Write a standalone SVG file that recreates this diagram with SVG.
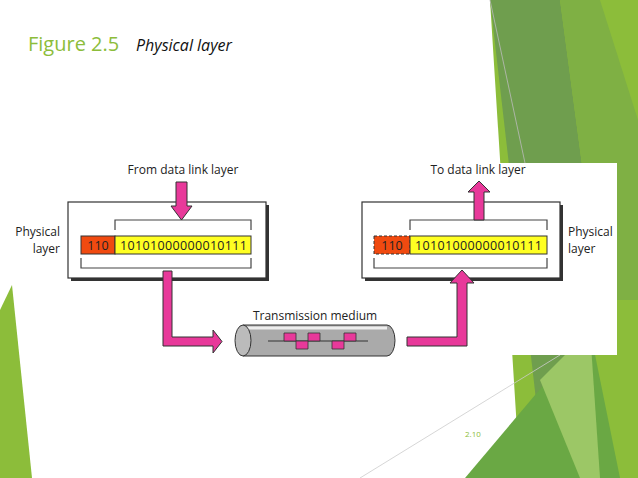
<svg xmlns="http://www.w3.org/2000/svg" width="638" height="478" viewBox="0 0 638 478">
<style>
text{font-family:"Open Sans","Liberation Sans",sans-serif;fill:#222}
.lbl{font-size:12px}
.bits{font-size:12.5px}
.pk{fill:#e8399a;stroke:#333;stroke-width:1}
.br{fill:none;stroke:#444;stroke-width:1.2}
</style>
<rect width="638" height="478" fill="#fff"/>
<g id="background">
<polygon points="490,0 638,0 638,478 520,478" fill="#8cbd3a"/>
<polygon points="490,0 560,0 600,300 570,478 545,478" fill="#6f9e4e"/>
<polygon points="560,0 600,0 638,120 638,300 600,300" fill="#7fb044"/>
<polygon points="465,478 590,330 620,478" fill="#6aa844"/>
<polygon points="540,380 590,330 600,478 580,478" fill="#9cc766"/>
<polygon points="0,310 12,285 32,478 0,478" fill="#8cbd3a"/>
<line x1="490" y1="0" x2="525" y2="163" stroke="#bbb" stroke-width="0.8"/>
<line x1="360" y1="478" x2="560" y2="355" stroke="#ccc" stroke-width="0.8"/>
<rect x="490" y="163" width="127" height="192" fill="#fff"/>
</g>
<g id="title">
<text x="28" y="51" style="font-size:20px;fill:#8cbd3a">Figure 2.5</text>
<text x="136" y="51" style="font-size:16px;font-style:italic;fill:#111">Physical layer</text>
<text x="465" y="437" style="font-size:8px;fill:#8cbd3a">2.10</text>
</g>
<g id="sender">
<rect x="71" y="205" width="198" height="76" fill="#333"/>
<rect x="68" y="202" width="198" height="76" fill="#fff" stroke="#333" stroke-width="1.2"/>
<path class="br" d="M115,230 V220 H251 V230"/>
<path class="br" d="M81,258 V268 H251 V258"/>
<rect x="81" y="236" width="34" height="18" fill="#f04a10" stroke="#333"/>
<rect x="115" y="236" width="136" height="18" fill="#ffff22" stroke="#333"/>
<text class="bits" x="98" y="250" text-anchor="middle">110</text>
<text class="bits" x="120" y="250" textLength="127" lengthAdjust="spacing">10101000000010111</text>
<text class="lbl" x="60" y="236" text-anchor="end">Physical</text>
<text class="lbl" x="60" y="253" text-anchor="end">layer</text>
<text class="lbl" x="183" y="174" text-anchor="middle">From data link layer</text>
</g>
<g id="receiver">
<rect x="365" y="205" width="198" height="76" fill="#333"/>
<rect x="362" y="202" width="198" height="76" fill="#fff" stroke="#333" stroke-width="1.2"/>
<path class="br" d="M410,230 V220 H547 V230"/>
<path class="br" d="M374,258 V268 H547 V258"/>
<rect x="374" y="236" width="36" height="18" fill="#f04a10" stroke="#333" stroke-dasharray="3,2"/>
<rect x="410" y="236" width="137" height="18" fill="#ffff22" stroke="#333"/>
<text class="bits" x="392" y="250" text-anchor="middle">110</text>
<text class="bits" x="415" y="250" textLength="127" lengthAdjust="spacing">10101000000010111</text>
<text class="lbl" x="568" y="236">Physical</text>
<text class="lbl" x="568" y="253">layer</text>
<text class="lbl" x="478" y="174" text-anchor="middle">To data link layer</text>
</g>
<g id="medium">
<path d="M243,325 H387 A8,15.5 0 0 1 387,356 H243 Z" fill="#aaa" stroke="#333"/>
<path d="M243,328 H387" stroke="#eee" stroke-width="3"/>
<ellipse cx="243" cy="340.5" rx="8" ry="15.5" fill="#bbb" stroke="#333"/>
<text class="lbl" x="315" y="320" text-anchor="middle">Transmission medium</text>
<line x1="268" y1="341" x2="368" y2="341" stroke="#333"/>
<path d="M284,333 H296 V341 H284Z M296,341 H308 V349 H296Z M308,333 H320 V341 H308Z M332,341 H344 V349 H332Z M344,333 H356 V341 H344Z" fill="#e8399a" stroke="#333" stroke-width="0.8"/>
</g>
<g id="connectors">
<path class="pk" d="M176,182 H187 V206 H192 L181.5,220 L171,206 H176 Z"/>
<path class="pk" d="M163,271 H172 V337 H213 V330 L222,341.5 L213,353 V346 H163 Z"/>
<path class="pk" d="M407,337 H457 V283 H450 L462,270 L474,283 H467 V346 H407 Z"/>
<path class="pk" d="M474,220 V192 H468 L479,181 L490,192 H484 V220 Z"/>
</g>
</svg>
